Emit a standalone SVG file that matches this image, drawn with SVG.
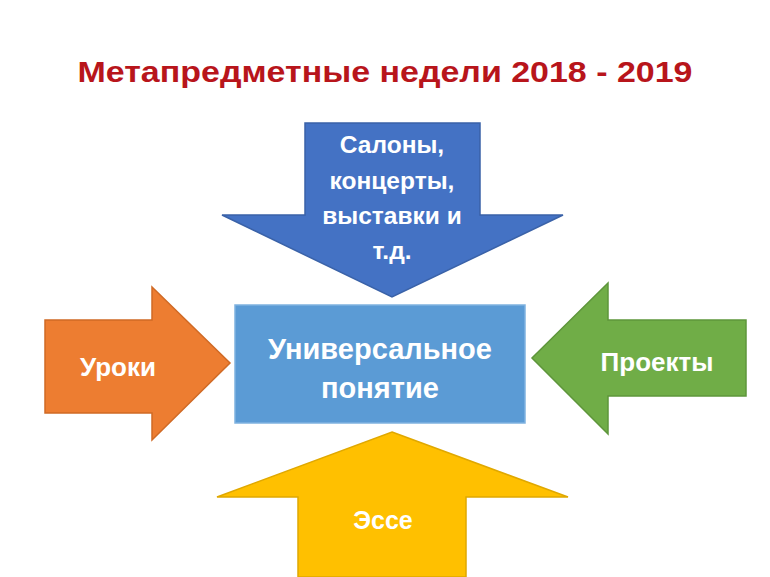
<svg xmlns="http://www.w3.org/2000/svg" width="770" height="577" viewBox="0 0 770 577">
<style>
.t{font-family:"Liberation Sans",Arial,sans-serif;font-weight:bold;fill:#fff;text-anchor:middle}
.a{stroke-width:1.5}
</style>
<rect width="770" height="577" fill="#fff"/>
<text x="385" y="82" font-family="'Liberation Sans',Arial,sans-serif" font-weight="bold" font-size="29" fill="#b8151b" text-anchor="middle" textLength="615" lengthAdjust="spacingAndGlyphs">Метапредметные недели 2018 - 2019</text>
<g id="connectors">
<g id="top-arrow"><polygon class="a" points="305,123 480,123 480,215 563,215 392,297 222,215 305,215" fill="#4472c4" stroke="#3a62a8"/>
<text class="t" font-size="24.5"><tspan x="392" y="153">Салоны,</tspan><tspan x="392" y="189">концерты,</tspan><tspan x="392" y="224">выставки и</tspan><tspan x="392" y="259">т.д.</tspan></text></g>
<g id="left-arrow"><polygon class="a" points="45,320 152,320 152,287 230,363 152,440 152,413 45,413" fill="#ed7d31" stroke="#d06a25"/>
<text class="t" x="118" y="376" font-size="26">Уроки</text></g>
<g id="right-arrow"><polygon class="a" points="746,320 608,320 608,283 532,358 608,434 608,396 746,396" fill="#70ad47" stroke="#5e963b"/>
<text class="t" x="657" y="371" font-size="26">Проекты</text></g>
<g id="bottom-arrow"><polygon class="a" points="392,432 568,497 466,497 466,577 298,577 298,497 217,497" fill="#ffc000" stroke="#e0a800"/>
<text class="t" x="383" y="529" font-size="25">Эссе</text></g>
</g>
<g id="center"><rect x="235" y="305" width="290" height="118" fill="#5b9bd5" stroke="#7fb2e0" stroke-width="1.5"/>
<text class="t" font-size="29"><tspan x="380" y="359">Универсальное</tspan><tspan x="380" y="398">понятие</tspan></text></g>
</svg>
